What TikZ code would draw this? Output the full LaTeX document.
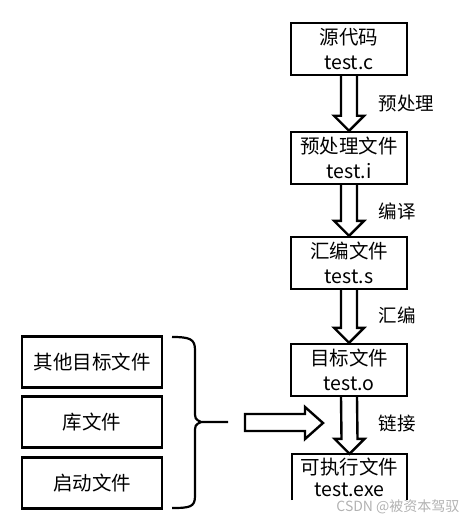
\documentclass[tikz,border=0pt]{standalone}
\usepackage{fontspec}
\setmainfont{Noto Sans CJK SC}
\usetikzlibrary{calc}
\tikzset{
  stage/.style={draw, line width=2.4pt, minimum width=116pt, minimum height=52pt, inner sep=0pt, align=center, font=\fontsize{19.5}{25}\selectfont},
  side/.style={draw, line width=2.4pt, minimum width=140pt, minimum height=51pt, inner sep=0pt, font=\fontsize{19.5}{25}\selectfont},
  lbl/.style={anchor=west, font=\fontsize{18.5}{20}\selectfont},
  hollow/.style={line width=2.4pt, line join=miter},
}
\newcommand{\fatdown}[2]{%
  \draw[hollow] ($(#1.south)+(-8,0)$) -- ($(#2.north)+(-8,-15)$) -- ($(#2.north)+(-15,-15)$) -- (#2.north)
    -- ($(#2.north)+(15,-15)$) -- ($(#2.north)+(8,-15)$) -- ($(#1.south)+(8,0)$);}
\begin{document}
\begin{tikzpicture}[x=1pt,y=-1pt]
\useasboundingbox (0,0) rectangle (474,521);
\node[stage] (b1) at (349,49) {源代码\\test.c};
\node[stage] (b2) at (349,158) {预处理文件\\test.i};
\node[stage] (b3) at (349,263) {汇编文件\\test.s};
\node[stage] (b4) at (349,370) {目标文件\\test.o};
\node[minimum width=115pt, minimum height=46pt, inner sep=0pt, align=center, font=\fontsize{19.5}{22}\selectfont] (b5) at (349.5,477) {可执行文件\\test.exe};
\draw[line width=2.4pt] (b5.south west) -- (b5.north west) -- (b5.north east) -- (b5.south east);
\fatdown{b1}{b2}
\fatdown{b2}{b3}
\fatdown{b3}{b4}
\fatdown{b4}{b5}
\node[lbl] (l1) at (375,103) {预处理};
\node[lbl] (l2) at (375,211) {编译};
\node[lbl] (l3) at (375,315) {汇编};
\node[lbl] (l4) at (375,423) {链接};
\node[side] (s1) at (92,362) {其他目标文件};
\node[side] (s2) at (92,422) {库文件};
\node[side] (s3) at (92,483) {启动文件};
\draw[line width=2.2pt] (172,337) .. controls (190,337) and (195,339) .. (195,350) -- (195,410)
  .. controls (195,419) .. (201,422) -- (228,422);
\draw[line width=2.2pt] (201,422) .. controls (195,425) .. (195,434) -- (195,496)
  .. controls (195,507) and (190,508) .. (172,508);
\draw[hollow] (245,414) -- (305,414) -- (305,407) -- (323,423) -- (305,439) -- (305,431) -- (245,431) -- cycle;
\node[text=black!30, font=\fontsize{14}{16}\selectfont, anchor=east] (wm) at (463,507) {CSDN @被资本驾驭};
\end{tikzpicture}
\end{document}
